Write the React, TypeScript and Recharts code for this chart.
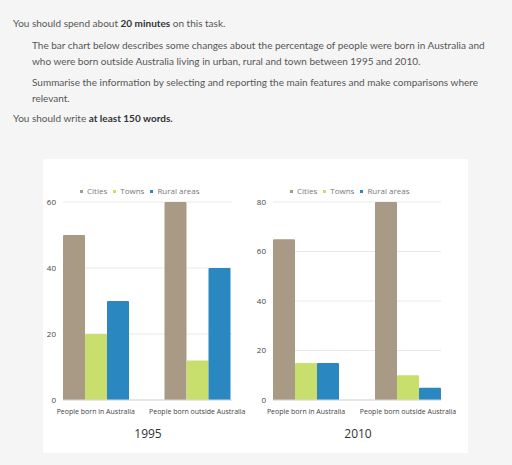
import { Bar, BarChart, CartesianGrid, XAxis, YAxis } from 'recharts';

const groups = ['People born in Australia', 'People born outside Australia'];
const seriesNames = ['Cities', 'Towns', 'Rural areas'];
const seriesColors = ['#a89a84', '#c8df6e', '#2a87bf'];

const cities1995 = [50, 60];
const towns1995 = [20, 12];
const rural1995 = [30, 40];
const ticks1995 = [0, 20, 40, 60];

const cities2010 = [65, 80];
const towns2010 = [15, 10];
const rural2010 = [15, 5];
const ticks2010 = [0, 20, 40, 60, 80];

const buildRows = (cities: number[], towns: number[], rural: number[]) =>
  groups.map((name, i) => ({ name, Cities: cities[i], Towns: towns[i], 'Rural areas': rural[i] }));

const rows1995 = buildRows(cities1995, towns1995, rural1995);
const rows2010 = buildRows(cities2010, towns2010, rural2010);

const font = '"Open Sans", sans-serif';

// legend kept outside the chart so it doesn't push the plot area down
function LegendRow() {
  return (
    <div
      style={{
        position: 'absolute', top: 27, left: 37, display: 'flex', alignItems: 'center', gap: 6,
        fontFamily: font, fontSize: 8, color: '#777', lineHeight: '10px',
      }}
    >
      {seriesNames.map((s, i) => (
        <div key={s} style={{ display: 'flex', alignItems: 'center', gap: 4 }}>
          <span style={{ width: 3, height: 3, background: seriesColors[i], display: 'inline-block' }} />
          <span>{s}</span>
        </div>
      ))}
    </div>
  );
}

// plain text tick so the long category names don't get wrapped
function CategoryTick({ x, y, payload }: any) {
  return (
    <text x={x} y={y} dy={7} textAnchor="middle" fontFamily={font} fontSize={7} fill="#444">
      {payload.value}
    </text>
  );
}

interface PanelProps {
  rows: Record<string, string | number>[];
  ticks: number[];
  year: string;
  left: number;
  pad: { left: number; right: number };
  marginRight: number;
}

function Panel({ rows, ticks, year, left, pad, marginRight }: PanelProps) {
  return (
    <div style={{ position: 'absolute', left, top: 159, width: 210, height: 294 }}>
      <LegendRow />
      <BarChart width={210} height={260} data={rows} margin={{ top: 43, right: marginRight, bottom: 0, left: 0 }} barSize={22} barGap={0}>
        <CartesianGrid vertical={false} stroke="#e8e8e8" />
        <XAxis
          dataKey="name"
          padding={pad}
          tickLine={false}
          axisLine={{ stroke: '#d9d9d9' }}
          tick={<CategoryTick />}
          tickMargin={1}
          height={19}
          interval={0}
        />
        <YAxis
          width={20}
          domain={[0, ticks[ticks.length - 1]]}
          ticks={ticks}
          tickLine={false}
          axisLine={false}
          tickSize={0}
          tickMargin={7}
          tick={{ fontFamily: font, fontSize: 8, fill: '#444' }}
        />
        {seriesNames.map((s, i) => (
          <Bar key={s} dataKey={s} fill={seriesColors[i]} radius={[1, 1, 0, 0]} isAnimationActive={false} />
        ))}
      </BarChart>
      <div style={{ position: 'absolute', top: 266, left: 0, width: 210, textAlign: 'center', fontFamily: font, fontSize: 12, color: '#333' }}>
        {year}
      </div>
    </div>
  );
}

export default function App() {
  const textStyle = { fontFamily: 'Lato, sans-serif', fontSize: 10, color: '#555', lineHeight: '16px', whiteSpace: 'nowrap' as const, position: 'absolute' as const };
  const b = { color: '#333', fontWeight: 700 };
  return (
    <div style={{ position: 'absolute', left: 0, top: 0, width: 512, height: 465, background: '#f5f5f6', overflow: 'hidden' }}>
      <div style={{ ...textStyle, left: 13, top: 15 }}>
        You should spend about <span style={b}>20 minutes</span> on this task.
      </div>
      <div style={{ ...textStyle, left: 32, top: 37 }}>
        The bar chart below describes some changes about the percentage of people were born in Australia and
        <br />
        who were born outside Australia living in urban, rural and town between 1995 and 2010.
      </div>
      <div style={{ ...textStyle, left: 32, top: 74 }}>
        Summarise the information by selecting and reporting the main features and make comparisons where
        <br />
        relevant.
      </div>
      <div style={{ ...textStyle, left: 13, top: 110 }}>
        You should write <span style={b}>at least 150 words.</span>
      </div>
      <div style={{ position: 'absolute', left: 43, top: 159, width: 425, height: 294, background: '#fff' }} />
      <Panel rows={rows1995} ticks={ticks1995} year="1995" left={43} pad={{ left: -18, right: -16 }} marginRight={21} />
      <Panel rows={rows2010} ticks={ticks2010} year="2010" left={253} pad={{ left: -18, right: -18 }} marginRight={22} />
    </div>
  );
}
